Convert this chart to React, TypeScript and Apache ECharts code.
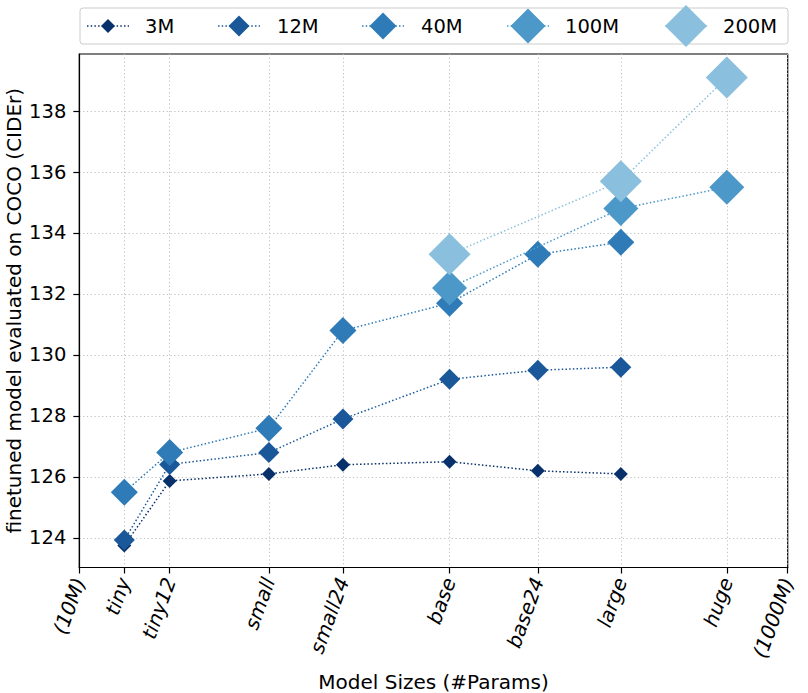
import React, { useEffect, useRef } from 'react';
import * as echarts from 'echarts';

// ---- data ----
const categories = ['tiny', 'tiny12', 'small', 'small24', 'base', 'base24', 'large', 'huge'];
// approximate parameter counts (millions) -> x positions on the log axis
const paramsM = [13.4, 18, 34.3, 55.5, 111, 197, 338, 673];
const axisEndLabels = ['(10M)', '(1000M)'];
const axisEndParamsM = [10, 1000];

const seriesNames = ['3M', '12M', '40M', '100M', '200M'];
const s3M = [123.75, 125.87, 126.1, 126.4, 126.5, 126.2, 126.1, null];
const s12M = [123.93, 126.41, 126.8, 127.9, 129.2, 129.5, 129.6, null];
const s40M = [125.5, 126.8, 127.6, 130.8, 131.7, 133.3, 133.7, null];
const s100M = [null, null, null, null, 132.2, null, 134.8, 135.5];
const s200M = [null, null, null, null, 133.3, null, 135.7, 139.1];
const seriesValues = [s3M, s12M, s40M, s100M, s200M];
const yTicks = [124, 126, 128, 130, 132, 134, 136, 138];

// ---- styles ----
const seriesColors = ['#08306b', '#1a5899', '#2f7bb7', '#4b98c9', '#8ac0dd'];
const symbolSizes = [14, 21, 27, 35, 42];
const FONT = 'DejaVu Sans';

// legend layout (pixels)
const legendBox = { x: 80, y: 8, w: 708, h: 36 };
const legendMarkerX = [108, 239, 383, 528, 686];
const legendTextX = [145, 277, 421, 565, 723];
const legendLineHalf = 21;

export default function App() {
  const ref = useRef<HTMLDivElement>(null);

  useEffect(() => {
    document.body.style.margin = '0';
    const chart = echarts.init(ref.current!, null, { renderer: 'svg' });

    const tickLabels = [axisEndLabels[0], ...categories, axisEndLabels[1]];
    const tickPos = [axisEndParamsM[0], ...paramsM, axisEndParamsM[1]].map((v) => Math.log10(v));

    const series = seriesNames.map((name, si) => {
      const data: number[][] = [];
      seriesValues[si].forEach((v, i) => {
        if (v !== null && v !== undefined) data.push([Math.log10(paramsM[i]), v as number]);
      });
      return {
        name,
        type: 'line',
        data,
        symbol: 'diamond',
        symbolSize: symbolSizes[si],
        itemStyle: { color: seriesColors[si] },
        lineStyle: { color: seriesColors[si], width: 1.5, type: [1.5, 2.2] },
        z: 2 + si,
      };
    });

    const cy = legendBox.y + legendBox.h / 2;
    const legendGraphics: any[] = [
      {
        type: 'rect',
        shape: { x: legendBox.x, y: legendBox.y, width: legendBox.w, height: legendBox.h, r: 3 },
        style: { fill: 'rgba(255,255,255,0.8)', stroke: '#cccccc', lineWidth: 1 },
      },
    ];
    seriesNames.forEach((name, i) => {
      const cx = legendMarkerX[i];
      const s = symbolSizes[i] / 2;
      legendGraphics.push({
        type: 'line',
        shape: { x1: cx - legendLineHalf, y1: cy, x2: cx + legendLineHalf, y2: cy },
        style: { stroke: seriesColors[i], lineWidth: 1.5, lineDash: [1.5, 2.2] },
      });
      legendGraphics.push({
        type: 'polygon',
        shape: { points: [[cx, cy - s], [cx + s, cy], [cx, cy + s], [cx - s, cy]] },
        style: { fill: seriesColors[i] },
      });
      legendGraphics.push({
        type: 'text',
        x: legendTextX[i],
        y: cy,
        style: {
          text: name,
          font: `19.5px "${FONT}"`,
          fill: '#000',
          verticalAlign: 'middle',
          align: 'left',
        },
      });
    });

    const option: any = {
      animation: false,
      backgroundColor: '#ffffff',
      grid: {
        left: 79.3,
        right: 20.3,
        top: 54,
        bottom: 125.5,
        show: true,
        borderColor: '#000',
        borderWidth: 1.2,
        backgroundColor: 'transparent',
        containLabel: false,
        outerBoundsMode: 'none',
      },
      xAxis: {
        type: 'value',
        min: 1,
        max: 3,
        name: 'Model Sizes (#Params)',
        nameLocation: 'middle',
        nameGap: 104,
        nameTextStyle: { fontFamily: FONT, fontSize: 20, color: '#000' },
        axisLine: { show: true, lineStyle: { color: '#000', width: 1.2 } },
        axisTick: { show: true, length: 6, customValues: tickPos, lineStyle: { color: '#000', width: 1.2 } },
        axisLabel: {
          customValues: tickPos,
          rotate: 70,
          margin: 11,
          padding: [36, 0, 0, 0],
          fontFamily: FONT,
          fontStyle: 'italic',
          fontSize: 20,
          color: '#000',
          formatter: (val: number) => {
            let best = 0;
            let bd = Infinity;
            tickPos.forEach((p, i) => {
              const d = Math.abs(p - val);
              if (d < bd) {
                bd = d;
                best = i;
              }
            });
            return tickLabels[best];
          },
        },
        splitLine: { show: true, lineStyle: { color: '#b8b8b8', width: 0.9, type: [1.2, 2.6] } },
      },
      yAxis: {
        type: 'value',
        min: 123.03,
        max: 139.87,
        name: 'finetuned model evaluated on COCO (CIDEr)',
        nameLocation: 'middle',
        nameGap: 55,
        nameMoveOverlap: false,
        nameTextStyle: { fontFamily: FONT, fontSize: 20, color: '#000' },
        axisLine: { show: true, lineStyle: { color: '#000', width: 1.2 } },
        axisTick: { show: true, length: 6, customValues: yTicks, lineStyle: { color: '#000', width: 1.2 } },
        axisLabel: {
          customValues: yTicks,
          margin: 13,
          fontFamily: FONT,
          fontSize: 19.5,
          color: '#000',
          formatter: (v: number) => String(Math.round(v)),
        },
        splitLine: { show: true, lineStyle: { color: '#b8b8b8', width: 0.9, type: [1.2, 2.6] } },
      },
      series,
      graphic: legendGraphics,
    };

    chart.setOption(option);
    return () => chart.dispose();
  }, []);

  return <div ref={ref} style={{ width: 808, height: 693 }} />;
}
